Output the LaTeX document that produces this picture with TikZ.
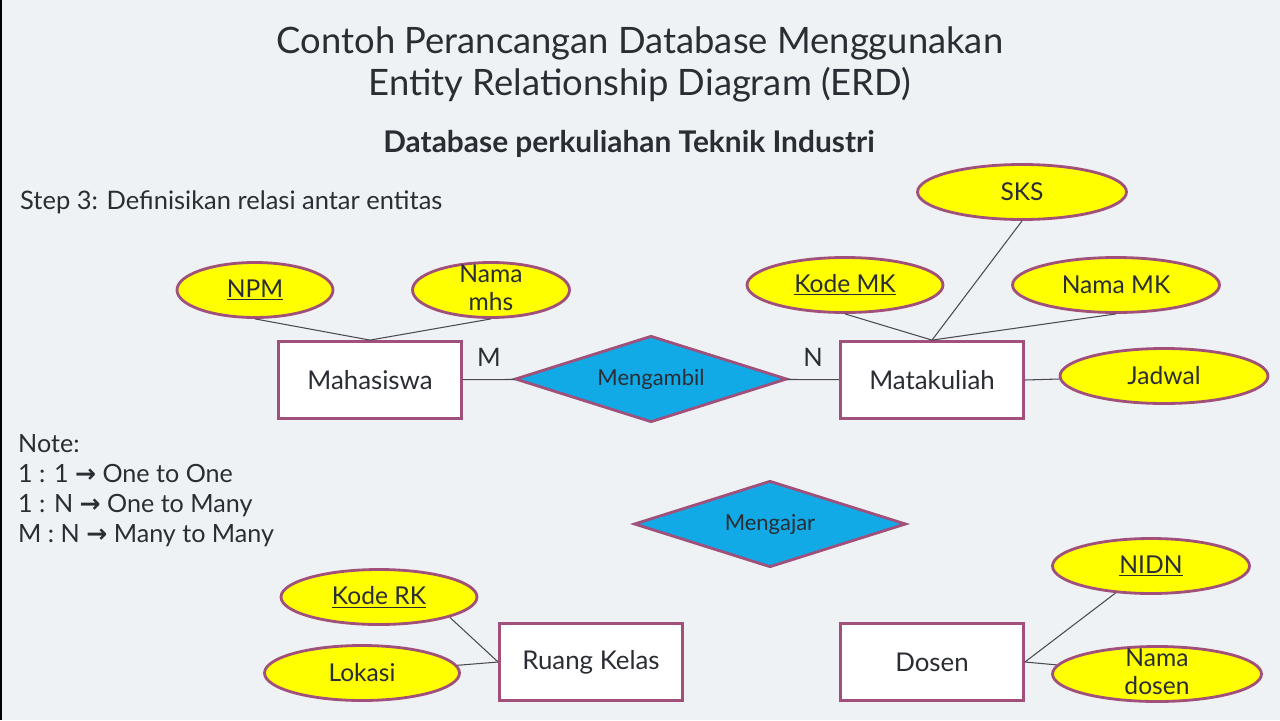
\documentclass[tikz,border=0pt]{standalone}
\usepackage{fontspec}
\setmainfont{Lato}
\newfontfamily\arrowfont{DejaVu Sans}
\usetikzlibrary{shapes.geometric}

\definecolor{bgcol}{HTML}{EFF2F4}
\definecolor{edgecol}{HTML}{A0507A}
\definecolor{attrfill}{HTML}{FFFF00}
\definecolor{relfill}{HTML}{11A9E6}
\definecolor{txtcol}{HTML}{2A2D33}
\definecolor{linecol}{HTML}{4A4A50}

\newcommand{\twolines}[2]{\raisebox{-0.3em}[0pt][0pt]{\begin{tabular}{@{}c@{}}#1\\#2\end{tabular}}}

\begin{document}
\begin{tikzpicture}[x=0.02cm,y=-0.02cm,
    entity/.style={draw=edgecol,line width=1.6pt,fill=white,minimum width=3.66cm,minimum height=1.54cm,
        text=txtcol,font=\fontsize{14.7}{17}\selectfont},
    attr/.style={ellipse,draw=edgecol,line width=1.6pt,fill=attrfill,minimum height=1.1cm,inner sep=0pt,
        text=txtcol,font=\fontsize{14}{16}\selectfont},
    rel/.style={diamond,aspect=3.2,draw=edgecol,line width=1.6pt,fill=relfill,minimum width=5.44cm,minimum height=1.73cm,
        inner sep=0pt,text=txtcol,font=\fontsize{12.5}{14}\selectfont},
    conn/.style={draw=linecol,line width=0.6pt},
    notetext/.style={anchor=base west,text=txtcol,font=\fontsize{14.3}{16}\selectfont}]
    \useasboundingbox[fill=bgcol] (0,0) rectangle (1280,720);
    \fill[black] (0,0) rectangle (2,720);

    \node[anchor=base,text=txtcol,font=\fontsize{20.7}{24}\selectfont] (title1) at (640,53) {Contoh Perancangan Database Menggunakan};
    \node[anchor=base,text=txtcol,font=\fontsize{20.7}{24}\selectfont] (title2) at (640,95) {Entity Relationship Diagram (ERD)};
    \node[anchor=base,text=txtcol,font=\fontsize{17}{20}\bfseries] (subtitle) at (629,152) {Database perkuliahan Teknik Industri};
    \node[notetext,font=\fontsize{14.5}{17}\selectfont] (step) at (14,209) {Step 3: Definisikan relasi antar entitas};

    \node[notetext] (note0) at (12,452) {Note:};
    \node[notetext] (note1) at (12,482) {1 : 1 {\arrowfont\bfseries →} One to One};
    \node[notetext] (note2) at (12,512) {1 : N {\arrowfont\bfseries →} One to Many};
    \node[notetext] (note3) at (12,542) {M : N {\arrowfont\bfseries →} Many to Many};

    \node[entity] (mhs) at (370,380) {Mahasiswa};
    \node[entity] (mk) at (932,380) {Matakuliah};
    \node[entity] (rk) at (591,662) {Ruang Kelas};
    \node[entity] (dosen) at (932,662) {Dosen};

    \node[rel] (ambil) at (651,379) {Mengambil};
    \node[rel] (ajar) at (770,524) {Mengajar};

    \node[attr,minimum width=3.12cm] (npm) at (255,290) {\underline{NPM}};
    \node[attr,minimum width=3.14cm] (namamhs) at (491,290) {\twolines{Nama}{mhs}};
    \node[attr,minimum width=4.18cm] (sks) at (1022,192) {SKS};
    \node[attr,minimum width=3.92cm] (kodemk) at (845,285) {\underline{Kode MK}};
    \node[attr,minimum width=4.14cm] (namamk) at (1116,285) {Nama MK};
    \node[attr,minimum width=4.16cm] (jadwal) at (1164,376) {Jadwal};
    \node[attr,minimum width=3.92cm] (koderk) at (379,597) {\underline{Kode RK}};
    \node[attr,minimum width=3.90cm] (lokasi) at (362,673) {Lokasi};
    \node[attr,minimum width=3.94cm] (nidn) at (1151,566) {\underline{NIDN}};
    \node[attr,minimum width=4.18cm] (namadosen) at (1157,674) {\twolines{Nama}{dosen}};

    \draw[conn] (npm.south) -- (mhs.north);
    \draw[conn] (namamhs.south) -- (mhs.north);
    \draw[conn] (kodemk.south) -- (mk.north);
    \draw[conn] (sks.south) -- (mk.north);
    \draw[conn] (namamk.south) -- (mk.north);
    \draw[conn] (jadwal) -- (mk.east);
    \draw[conn] (koderk.-16) -- (rk.west);
    \draw[conn] (lokasi) -- (rk.west);
    \draw[conn] (nidn) -- (dosen.east);
    \draw[conn] (namadosen) -- (dosen.east);

    \draw[conn] (mhs) -- (ambil) node[pos=0.5,above=4pt,text=txtcol,font=\fontsize{14.5}{16}\selectfont] (cardm) {M};
    \draw[conn] (ambil) -- (mk) node[pos=0.5,above=4pt,text=txtcol,font=\fontsize{14.5}{16}\selectfont] (cardn) {N};
\end{tikzpicture}
\end{document}
